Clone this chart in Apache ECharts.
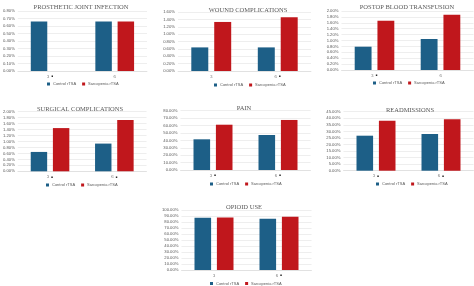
<!DOCTYPE html>
<html><head><meta charset="utf-8">
<script src="https://cdn.jsdelivr.net/npm/echarts@6/dist/echarts.min.js"></script>
<style>html,body{margin:0;padding:0;background:#fff}#c{width:474px;height:286px}</style>
</head><body><div id="c"></div>
<script>
const categories = ['3', '6'];
const seriesNames = ['Control rTSA', 'Sarcopenia rTSA'];
const titles = ['PROSTHETIC JOINT INFECTION', 'WOUND COMPLICATIONS', 'POSTOP BLOOD TRANSFUSION',
  'SURGICAL COMPLICATIONS', 'PAIN', 'READMISSIONS', 'OPIOID USE'];
const controlValues = [[0.66, 0.66], [0.64, 0.64], [0.79, 1.05], [0.65, 0.93], [41.4, 47.2], [26.7, 28.0], [87.2, 85.5]];
const sarcopeniaValues = [[null, 0.66], [1.33, 1.46], [1.67, 1.87], [1.45, 1.72], [61.1, 67.5], [38.1, 39.2], [87.5, 88.8]];
const axisMax = [0.8, 1.6, 2.0, 2.0, 80, 45, 100];
const axisStep = [0.1, 0.2, 0.2, 0.2, 10, 5, 10];
const significant = [[true, false], [false, true], [true, false], [true, true], [true, true], [true, true], [false, true]];

// layout: grid left, top, right edge, bottom edge; title center x, title y
const layout = [
  {l: 14, t: 11, r: 147, b: 71, tx: 76, ty: 2, ly: 84},
  {l: 178, t: 12, r: 311, b: 71, tx: 243, ty: 5.5, ly: 85},
  {l: 341.5, t: 11, r: 473.5, b: 70, tx: 402, ty: 2, ly: 83},
  {l: 14.5, t: 111.7, r: 146.5, b: 171.3, tx: 75, ty: 104, ly: 185},
  {l: 180.5, t: 110.7, r: 310.5, b: 170, tx: 239, ty: 103.5, ly: 184},
  {l: 343.5, t: 111.7, r: 473.5, b: 170.7, tx: 405, ty: 105, ly: 184},
  {l: 181.5, t: 210, r: 311.5, b: 270, tx: 239, ty: 202.3, ly: 283.5}
];
const blue = '#1d5f87', red = '#c0171c', txt = '#595959';

const option = {animation: false, title: [], grid: [], xAxis: [], yAxis: [], series: [], legend: []};
layout.forEach((p, i) => {
  option.title.push({text: titles[i], left: p.tx, top: p.ty, textAlign: 'center', textVerticalAlign: 'middle',
    textStyle: {fontFamily: 'Liberation Serif', fontWeight: 'normal', fontSize: 6.5, color: txt}});
  option.grid.push({left: p.l, top: p.t, width: p.r - p.l, height: p.b - p.t, containLabel: false});
  const sig = significant[i];
  option.xAxis.push({type: 'category', gridIndex: i, data: categories,
    axisLine: {lineStyle: {color: '#d9d9d9', width: 0.6}}, axisTick: {show: false},
    axisLabel: {margin: 3, fontSize: 4.5, color: txt, fontFamily: 'Liberation Serif',
      formatter: (v, idx) => sig[idx] ? '{a|' + v + '}  {s|■}' : '{a|' + v + '}',
      rich: {a: {fontSize: 4.5, color: txt}, s: {fontSize: 3, color: '#222'}}}});
  option.yAxis.push({type: 'value', gridIndex: i, min: 0, max: axisMax[i], interval: axisStep[i],
    axisLine: {show: false}, axisTick: {show: false},
    splitLine: {lineStyle: {color: '#e3e3e3', width: 0.6}},
    axisLabel: {margin: 3, fontSize: 4.2, color: txt, fontFamily: 'Liberation Sans',
      formatter: v => v.toFixed(2) + '%'}});
  option.series.push({name: seriesNames[0], type: 'bar', xAxisIndex: i, yAxisIndex: i, data: controlValues[i],
    itemStyle: {color: blue}, barGap: '35%', barCategoryGap: '40%'});
  option.series.push({name: seriesNames[1], type: 'bar', xAxisIndex: i, yAxisIndex: i, data: sarcopeniaValues[i],
    itemStyle: {color: red}, barGap: '35%', barCategoryGap: '40%'});
  option.legend.push({data: seriesNames, left: p.tx - 29, top: p.ly - 2, itemWidth: 3, itemHeight: 3, itemGap: 6,
    icon: 'rect', padding: 0, textStyle: {fontSize: 4, color: txt, padding: [0, 0, 0, -2]}});
});
echarts.init(document.getElementById('c')).setOption(option);
</script></body></html>
